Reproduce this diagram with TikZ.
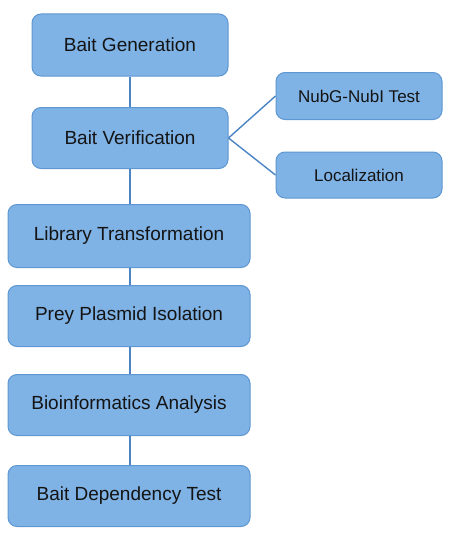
\documentclass[tikz,border=0pt]{standalone}
\usepackage{fontspec}
\setmainfont{Liberation Sans}
\definecolor{boxfill}{HTML}{7FB2E5}
\definecolor{boxline}{HTML}{5E97D2}
\definecolor{conn}{HTML}{4A84C4}
\definecolor{txt}{HTML}{141414}
\begin{document}
\begin{tikzpicture}[x=1pt,y=-1pt,
  stepbox/.style={draw=boxline,line width=1pt,fill=boxfill,rounded corners=9pt,inner sep=0pt,text=txt,font=\fontsize{19}{22}\selectfont},
  smallbox/.style={stepbox,font=\fontsize{17}{20}\selectfont},
  link/.style={draw=conn,line width=1.4pt}]
\useasboundingbox (0,0) rectangle (454,535);
\node[stepbox,minimum width=196pt,minimum height=62pt] (gen) at (130,45) {Bait Generation};
\node[stepbox,minimum width=196pt,minimum height=61pt] (ver) at (130,138) {Bait Verification};
\node[smallbox,minimum width=166pt,minimum height=47pt] (nub) at (359,96) {NubG-NubI Test};
\node[smallbox,minimum width=166pt,minimum height=46pt] (loc) at (359,175) {Localization};
\node[stepbox,minimum width=242pt,minimum height=63pt] (lib) at (129,236) {Library Transformation};
\node[stepbox,minimum width=242pt,minimum height=61pt] (prey) at (129,316) {Prey Plasmid Isolation};
\node[stepbox,minimum width=242pt,minimum height=61pt] (bio) at (129,405) {Bioinformatics Analysis};
\node[stepbox,minimum width=242pt,minimum height=61pt] (dep) at (129,496) {Bait Dependency Test};
\draw[link] (gen.south -| 130,0) -- (ver.north -| 130,0);
\draw[link] (ver.south -| 130,0) -- (lib.north -| 130,0);
\draw[link] (lib.south -| 130,0) -- (prey.north -| 130,0);
\draw[link] (prey.south -| 130,0) -- (bio.north -| 130,0);
\draw[link] (bio.south -| 130,0) -- (dep.north -| 130,0);
\draw[link] (ver.east) -- (nub.west);
\draw[link] (ver.east) -- (loc.west);
\end{tikzpicture}
\end{document}
